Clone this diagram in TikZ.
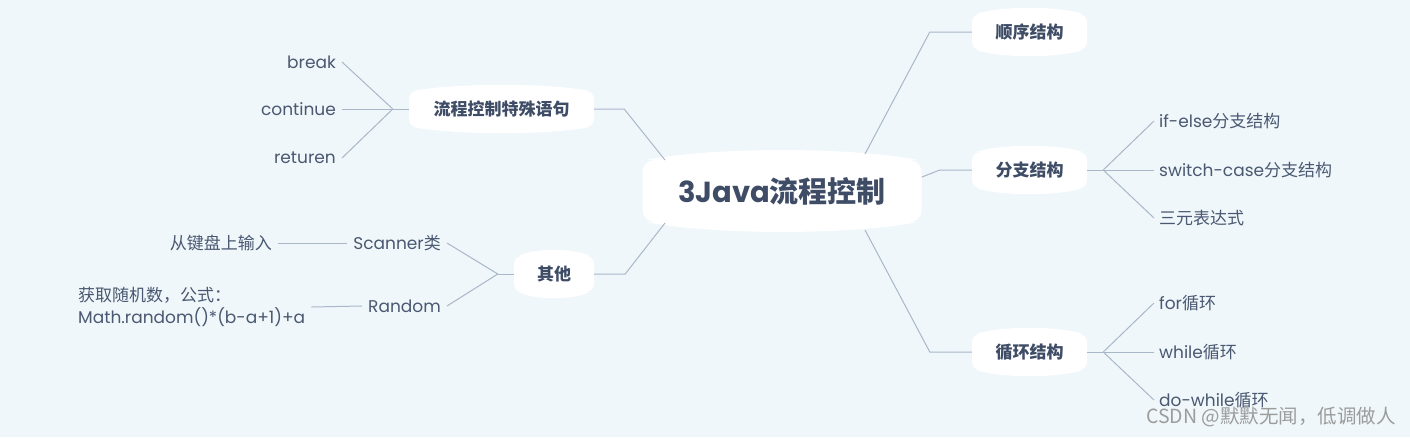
\documentclass[tikz,border=0pt]{standalone}
\usepackage{fontspec}
\usetikzlibrary{calc}
\newfontfamily\cjk{Noto Sans CJK SC}
\newfontfamily\pop{Poppins}
\definecolor{bgc}{HTML}{EFF7FA}
\definecolor{linec}{HTML}{A9B7C9}
\definecolor{titlec}{HTML}{3E4C66}
\definecolor{leafc}{HTML}{4A5871}
\definecolor{wmc}{HTML}{9C9C9C}
\newcommand\bulge[2]{%
  \fill[white] ([xshift=5pt]#1.north west) .. controls ($(#1.north west)!0.25!(#1.north east)+(0pt,#2)$) and ($(#1.north west)!0.75!(#1.north east)+(0pt,#2)$) .. ([xshift=-5pt]#1.north east) -- cycle;
  \fill[white] ([xshift=5pt]#1.south west) .. controls ($(#1.south west)!0.25!(#1.south east)+(0pt,-#2)$) and ($(#1.south west)!0.75!(#1.south east)+(0pt,-#2)$) .. ([xshift=-5pt]#1.south east) -- cycle;
}
\tikzset{
  conn/.style={draw=linec, line width=1pt},
  mainbox/.style={fill=white, rounded corners=12pt, minimum width=279pt, minimum height=62pt, inner sep=0pt, text=titlec, font={\cjk\bfseries\fontsize{29}{33}\selectfont}},
  subbox/.style={fill=white, rounded corners=8pt, minimum height=36pt, inner sep=0pt, text=titlec, font={\cjk\bfseries\fontsize{17}{20}\selectfont}},
  leaf/.style={text=leafc, inner xsep=5pt, inner ysep=2pt, font={\cjk\fontsize{17}{22}\selectfont}},
}
\begin{document}
\begin{tikzpicture}[x=1pt, y=-1pt]
\path[use as bounding box, fill=bgc] (0,0) rectangle (1410,437);

% central node
\node[mainbox] (root) at (782,191) {{\pop\bfseries 3Java}流程控制};
\bulge{root}{13pt}

% level two
\node[subbox, minimum width=115pt] (s1) at (1029.5,32) {顺序结构};
\node[subbox, minimum width=115pt] (s2) at (1029.5,170) {分支结构};
\node[subbox, minimum width=115pt] (s3) at (1029.5,352) {循环结构};
\node[subbox, minimum width=185pt] (s4) at (501.5,109) {流程控制特殊语句};
\node[subbox, minimum width=80pt] (s5) at (554,274) {其他};
\foreach \n in {s1,s2,s3,s4,s5} {\bulge{\n}{8pt}}

% root connectors
\draw[conn] ([shift={(83,-37)}]root.center) -- ([xshift=-42pt]s1.west) -- (s1.west);
\draw[conn] ([shift={(140,-14)}]root.center) -- ([xshift=-32pt]s2.west) -- (s2.west);
\draw[conn] ([shift={(83,39)}]root.center) -- ([xshift=-42pt]s3.west) -- (s3.west);
\draw[conn] ([shift={(-117,-31)}]root.center) -- ([xshift=30pt]s4.east) -- (s4.east);
\draw[conn] ([shift={(-117,32)}]root.center) -- ([xshift=31pt]s5.east) -- (s5.east);

% leaves of 分支结构
\node[leaf, anchor=west] (l21) at (1154,121) {{\pop if-else}分支结构};
\node[leaf, anchor=west] (l22) at (1154,170) {{\pop switch-case}分支结构};
\node[leaf, anchor=west] (l23) at (1154,218) {三元表达式};
\coordinate (f2) at ([xshift=16pt]s2.east);
\draw[conn] (s2.east) -- (f2);
\foreach \l in {l21,l22,l23} {\draw[conn] (f2) -- (\l.west);}

% leaves of 循环结构
\node[leaf, anchor=west] (l31) at (1154,303) {{\pop for}循环};
\node[leaf, anchor=west] (l32) at (1154,352) {{\pop while}循环};
\node[leaf, anchor=west] (l33) at (1154,400) {{\pop do-while}循环};
\coordinate (f3) at ([xshift=16pt]s3.east);
\draw[conn] (s3.east) -- (f3);
\foreach \l in {l31,l32,l33} {\draw[conn] (f3) -- (\l.west);}

% leaves of 流程控制特殊语句
\node[leaf, anchor=east, inner xsep=6pt] (l41) at (342,62) {\pop break};
\node[leaf, anchor=east, inner xsep=6pt] (l42) at (342,109) {\pop continue};
\node[leaf, anchor=east, inner xsep=6pt] (l43) at (342,158) {\pop returen};
\coordinate (f4) at ([xshift=-16pt]s4.west);
\draw[conn] (s4.west) -- (f4);
\foreach \l in {l41,l42,l43} {\draw[conn] (f4) -- (\l.east);}

% leaves of 其他
\node[leaf, anchor=east, inner xsep=6pt] (l51) at (447,243) {{\pop Scanner}类};
\node[leaf, anchor=east, inner xsep=6pt] (l52) at (447,306) {\pop Random};
\coordinate (f5) at ([xshift=-16pt]s5.west);
\draw[conn] (s5.west) -- (f5);
\foreach \l in {l51,l52} {\draw[conn] (f5) -- (\l.east);}
\node[leaf, anchor=east, inner xsep=6pt] (l511) at (278,243) {从键盘上输入};
\draw[conn] (l51.west) -- (l511.east);
\node[leaf, anchor=west, inner xsep=6pt, align=left] (l521) at (72,307) {获取随机数，公式：\\{\pop Math.random()*(b-a+1)+a}};
\draw[conn] (l52.west) -- (l521.east);

% watermark (overlaps the last leaf, as in the reference)
\node[anchor=east, text=wmc, inner sep=0pt, font={\cjk\fontsize{19.5}{22}\selectfont}] (wm) at (1396,417) {CSDN @默默无闻，低调做人};
\end{tikzpicture}
\end{document}
